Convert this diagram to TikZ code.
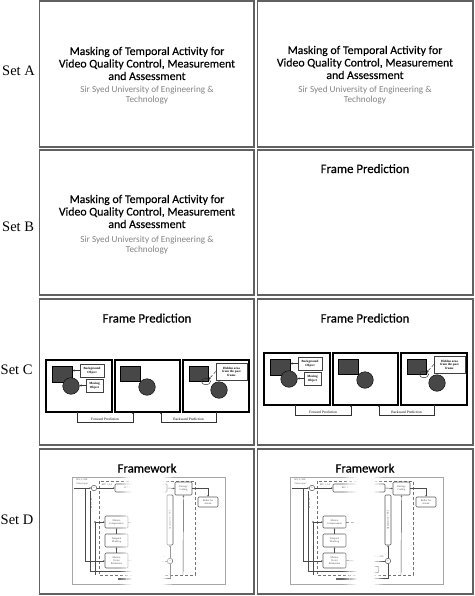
\documentclass[tikz,border=0pt]{standalone}
\usepackage{fontspec}
\setmainfont{Liberation Serif}
\newfontfamily\slidefont{Carlito}
\newfontfamily\slidefontb[FakeBold=0.35]{Carlito}
\newfontfamily\headfont[FakeBold=0.6]{Carlito}
\usetikzlibrary{arrows.meta,calc}
\begin{document}
\begin{tikzpicture}[x=1pt,y=-1pt,
  panel/.style={draw=black!62, line width=1.3pt},
  setlabel/.style={font=\fontsize{14.5}{16}\selectfont, anchor=base west, inner sep=0pt},
  ttl/.style={font=\slidefontb\fontsize{11.8}{12.5}\selectfont, anchor=base, inner sep=0pt, text=black},
  sub/.style={font=\slidefont\fontsize{9.2}{10}\selectfont, anchor=base, inner sep=0pt, text=black!48},
  heading/.style={font=\headfont\fontsize{12.8}{14}\selectfont, anchor=base, inner sep=0pt, text=black},
  frm/.style={draw=black, line width=1.1pt, fill=white},
  obj/.style={draw=black, fill=black!72, line width=0.4pt},
  lbl/.style={draw=black!75, line width=0.5pt, fill=white, font=\fontsize{3.2}{3.5}\selectfont\bfseries, align=center, inner sep=0pt},
  tinytxt/.style={font=\fontsize{3.6}{4}\selectfont, inner sep=0pt},
  parr/.style={draw=black!80, line width=0.5pt, -{Stealth[length=2pt,width=2pt]}},
  fwbox/.style={draw=black!65, line width=0.55pt, rounded corners=1pt, fill=white, font=\fontsize{2.6}{2.9}\selectfont, align=center, inner sep=0pt, text=black!70},
  fwtxt/.style={font=\fontsize{2.4}{2.7}\selectfont, inner sep=0pt, text=black!70},
  fwline/.style={draw=black!70, line width=0.45pt},
  fwarr/.style={draw=black!70, line width=0.45pt, -{Stealth[length=1.6pt,width=1.6pt]}},
  sumc/.style={circle, draw=black!70, line width=0.45pt, fill=white, minimum size=5.5pt, inner sep=0pt, font=\fontsize{2.6}{3}\selectfont}
]
\useasboundingbox (0,0) rectangle (474,596);
\fill[white] (0,0) rectangle (474,596);

% ---------- macros for the repeated slide drawings ----------
\newcommand{\framepred}{%
  \draw[frm] (46,360) rectangle (112,412);
  \draw[frm] (115,360) rectangle (180,412);
  \draw[frm] (183,360) rectangle (249,412);
  % frame 1
  \draw[obj] (52,366) rectangle (72,382);
  \draw[obj] (71,386) circle (8.3);
  \node[lbl, minimum width=24pt, minimum height=12.5pt] (bg) at (92,370.5) {Background\\Object};
  \node[lbl, minimum width=17pt, minimum height=12.5pt] (mo) at (94.5,385.5) {Moving\\Object};
  \draw[parr] (bg.west) -- (72.5,370.5);
  \draw[parr] (mo.west) -- (79.5,385.5);
  % frame 2
  \draw[obj] (120,366) rectangle (140,381);
  \draw[obj] (147,387) circle (8.3);
  % frame 3
  \draw[obj] (189,366) rectangle (208,381);
  \draw[obj] (219,390) circle (8.3);
  \draw[draw=black!85, line width=0.45pt] (206,381.5) ellipse (4.5 and 3.3);
  \node[lbl, minimum width=31pt, minimum height=17pt] (hid) at (231.5,371.5) {Hidden area\\from the past\\frame};
  \draw[parr, densely dashed] (hid.west) -- (209,379);
  % prediction brackets
  \coordinate (fa) at (77,412); \coordinate (fb) at (133,412);
  \coordinate (ba) at (216,412); \coordinate (bb) at (161,412);
  \draw[parr] (fa) -- ++(0,10) -| (fb);
  \draw[parr] (ba) -- ++(0,10) -| (bb);
  \node[tinytxt] (fwd) at (105,419.3) {Forward Prediction};
  \node[tinytxt] (bwd) at (188.5,419.3) {Backward Prediction};
}

% #1 fade start, #2 white start, #3 white end, #4 fade end
\newcommand{\framework}[4]{%
  \draw[black!35, line width=0.5pt] (72,477) rectangle (225,584);
  \draw[fwline, densely dashed, black!55] (99,481) rectangle (195,575);
  \node[fwtxt] (vin1) at (82,479.5) {MV, 0, MX};
  \node[fwtxt] (vin2) at (82,483.5) {Video Input};
  \node[sumc] (s1) at (94,488) {+};
  \draw[fwarr] (74,488) -- (s1.west);
  \node[fwbox, minimum width=52pt, minimum height=8pt] (mv) at (141,488) {};
  \node[fwtxt] at (127,488) {MV: 1};
  \draw[fwarr] (s1.east) -- (mv.west);
  \node[fwtxt] at (107,485) {MV: 1, L0};
  \node[fwbox, minimum width=23pt, minimum height=12pt] (mc) at (116.5,522) {Motion\\Compensation};
  \node[fwbox, minimum width=23pt, minimum height=13pt] (tm) at (116.5,540.5) {Temporal\\Masking};
  \node[fwbox, minimum width=23pt, minimum height=15pt] (me) at (116.5,560.5) {Motion\\Vector\\Estimation};
  \draw[fwarr] (me.north) -- (tm.south);
  \draw[fwarr] (tm.north) -- (mc.south);
  \draw[fwarr] (85,488) -- (85,561) -- (me.west |- 0,561);
  \fill[black!70] (95,522) circle (0.9);
  \draw[fwarr] (95,522) -- (mc.west);
  \draw[fwline] (95,522) -- (95,575);
  \draw[fwline] (90,491) -- (90,571) -- (140,571);
  \node[fwtxt, rotate=90] at (91.5,503) {MV: 1, L0};
  \draw[fwline, densely dashed] (mc.east) -- (136,522);
  \draw[fwline] (me.east) -- (136,561);
  \draw[black!60, line width=1.6pt] (118,579) -- (140,579);
  % right piece
  \node[fwbox, minimum width=17pt, minimum height=13pt] (ec) at (183.5,488.5) {Entropy\\Coding};
  \draw[fwarr] (mv.east) -- (ec.west);
  \node[fwbox, minimum width=20pt, minimum height=10pt] (buf) at (208,502) {Buffer for\\stream};
  \draw[fwarr] (ec.east) -| (buf.north);
  \node[fwbox, minimum width=6pt, minimum height=50pt] (q) at (170,520) {};
  \node[fwtxt, rotate=90] at (170,520) {Quantization + DCT};
  \node[sumc] (s2) at (170,561) {+};
  \draw[fwarr] (s2.north) -- (q.south);
  \draw[fwline] (150,561) -- (s2.west);
  \node[fwtxt] at (160,557) {MV, 0, MX};
  \draw[fwline] (s2.south) -- (170,578) -- (150,578);
  \draw[fwarr] (183,575) -- (ec.south);
  \draw[fwline] (150,566) -- (160,566) -- (160,572) -- (150,572);
  % fade of the cropped picture
  \foreach \i [evaluate=\i as \op using \i/14] in {0,...,14}{
    \fill[white, opacity=\op] ({#1+(#2-#1)*\i/15},474) rectangle ({#1+(#2-#1)*(\i+1)/15+0.05},587);
  }
  \fill[white] (#2,474) rectangle (#3,587);
  \foreach \i [evaluate=\i as \op using 1-\i/14] in {0,...,14}{
    \fill[white, opacity=\op] ({#3+(#4-#3)*\i/15-0.05},474) rectangle ({#3+(#4-#3)*(\i+1)/15},587);
  }
}

% ---------- panels ----------
\draw[panel] (39.5,1) rectangle (254,147);
\draw[panel] (257.5,1) rectangle (473,147);
\draw[panel] (39.5,150) rectangle (254,295);
\draw[panel] (257.5,150) rectangle (473,295);
\draw[panel] (39.5,299) rectangle (254,445);
\draw[panel] (257.5,299) rectangle (473,445);
\draw[panel] (39.5,449) rectangle (254,594);
\draw[panel] (257.5,449) rectangle (473,594);

% ---------- set labels ----------
\node[setlabel] (la) at (2,76) {Set A};
\node[setlabel] (lb) at (2,231) {Set B};
\node[setlabel] (lc) at (0.5,374) {Set C};
\node[setlabel] (ld) at (0.5,524) {Set D};

% ---------- Set A ----------
\node[ttl] (a1) at (147,55) {Masking of Temporal Activity for};
\node[ttl] (a2) at (147,67.5) {Video Quality Control, Measurement};
\node[ttl] (a3) at (147,80) {and Assessment};
\node[sub] (a4) at (147,93) {Sir Syed University of Engineering \&};
\node[sub] (a5) at (147,103) {Technology};
\node[ttl] (b1) at (365,54) {Masking of Temporal Activity for};
\node[ttl] (b2) at (365,66.5) {Video Quality Control, Measurement};
\node[ttl] (b3) at (365,79) {and Assessment};
\node[sub] (b4) at (365,93) {Sir Syed University of Engineering \&};
\node[sub] (b5) at (365,103) {Technology};

% ---------- Set B ----------
\node[ttl] (c1) at (147,203) {Masking of Temporal Activity for};
\node[ttl] (c2) at (147,215.5) {Video Quality Control, Measurement};
\node[ttl] (c3) at (147,228) {and Assessment};
\node[sub] (c4) at (147,242) {Sir Syed University of Engineering \&};
\node[sub] (c5) at (147,252) {Technology};
\node[heading] (d1) at (365,173) {Frame Prediction};

% ---------- Set C ----------
\node[heading] (e1) at (147,322.5) {Frame Prediction};
\node[heading] (f1) at (365,322.5) {Frame Prediction};
\begin{scope}[name prefix=CL-]
  \framepred
\end{scope}
\begin{scope}[shift={(218,-7)}, name prefix=CR-]
  \framepred
\end{scope}

% ---------- Set D ----------
\node[heading] (g1) at (147,472.5) {Framework};
\node[heading] (h1) at (365,472.5) {Framework};
\begin{scope}[name prefix=DL-]
  \framework{119}{133}{161}{174}
\end{scope}
\begin{scope}[shift={(218,0)}, name prefix=DR-]
  \framework{124}{140}{154}{166}
\end{scope}
\end{tikzpicture}
\end{document}
